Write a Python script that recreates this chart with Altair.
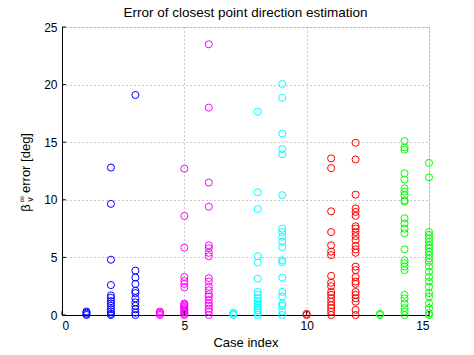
import altair as alt
import pandas as pd

# ---- data ----
case_1 = [0.0, 0.1, 0.2, 0.3]
case_2 = [12.8, 9.65, 4.8, 2.6, 1.7, 1.5, 1.2, 1.0, 0.8, 0.5, 0.3, 0.1, 0.0]
case_3 = [19.1, 3.85, 3.25, 2.7, 2.1, 1.9, 1.45, 1.1, 0.8, 0.5, 0.2, 0.0]
case_4 = [0.0, 0.1, 0.2, 0.3]
case_5 = [12.7, 8.6, 5.85, 3.3, 2.95, 2.7, 2.4, 1.0, 0.9, 0.8, 0.7, 0.6, 0.5, 0.4, 0.3, 0.2, 0.1, 0.0]
case_6 = [23.5, 18.0, 11.5, 9.4, 6.05, 5.8, 5.4, 5.1, 3.2, 2.9, 2.45, 2.15, 1.8, 1.6, 1.3, 1.0, 0.8, 0.55, 0.3, 0.0]
case_7 = [0.0, 0.1, 0.2]
case_8 = [17.65, 10.65, 9.2, 5.1, 4.55, 3.15, 2.0, 1.75, 1.45, 1.2, 1.0, 0.8, 0.6, 0.4, 0.2, 0.0]
case_9 = [20.05, 18.85, 15.75, 14.4, 13.95, 10.4, 7.5, 7.2, 6.8, 6.35, 5.9, 4.75, 4.6, 3.25, 2.0, 1.6, 1.0, 0.8, 0.3, 0.0]
case_10 = [0.0, 0.1]
case_11 = [13.6, 12.75, 9.0, 7.2, 6.05, 5.5, 5.2, 3.4, 2.8, 2.5, 2.0, 1.75, 1.45, 1.15, 0.85, 0.6, 0.3, 0.0]
case_12 = [14.95, 13.5, 10.45, 9.25, 8.95, 8.6, 7.7, 7.5, 7.2, 6.85, 6.5, 6.0, 5.7, 5.4, 4.2, 3.9, 3.3, 2.9, 2.7, 2.0, 1.75, 1.45, 1.15, 0.45, 0.0]
case_13 = [0.0, 0.1]
case_14 = [15.1, 14.55, 14.35, 12.3, 11.75, 11.0, 10.7, 10.4, 9.95, 9.85, 8.4, 7.95, 7.5, 7.1, 5.7, 4.75, 4.5, 4.2, 3.9, 1.75, 1.45, 1.0, 0.6, 0.3, 0.0]
case_15 = [13.2, 11.95, 7.2, 6.95, 6.65, 6.35, 6.05, 5.8, 5.5, 5.2, 4.9, 4.6, 4.2, 3.75, 3.3, 2.9, 2.45, 1.9, 1.6, 1.0, 0.6, 0.15, 0.0]

cases = [case_1, case_2, case_3, case_4, case_5, case_6, case_7, case_8,
         case_9, case_10, case_11, case_12, case_13, case_14, case_15]
group_names = ["g1", "g2", "g3", "g4", "g5"]
group_colors = ["#0000FF", "#FF00FF", "#00FFFF", "#FF0000", "#00FF00"]
x_ticks = [0, 5, 10, 15]
y_ticks = [0, 5, 10, 15, 20, 25]

rows = []
for i, vals in enumerate(cases):
    for v in vals:
        rows.append({"case": i + 1, "err": v, "group": group_names[i // 3]})
df = pd.DataFrame(rows)

FONT = "Liberation Sans"
W, H = 367, 288

xscale = alt.Scale(domain=[0, 15], nice=False, zero=False)
yscale = alt.Scale(domain=[0, 25], nice=False, zero=False)

xaxis = alt.Axis(values=x_ticks, grid=True, gridDash=[1, 3], gridColor="#999",
                 gridOpacity=1, ticks=False, domainColor="black", labelColor="black",
                 labelFontSize=12, labelPadding=5, labelFont=FONT,
                 titleFont=FONT, titleFontSize=13, titleFontWeight="normal",
                 titleColor="black", titlePadding=5)
yaxis = alt.Axis(values=y_ticks, grid=True, gridDash=[1, 3], gridColor="#999",
                 gridOpacity=1, ticks=False, domainColor="black", labelColor="black",
                 labelFontSize=12, labelPadding=5, labelFont=FONT)

points = alt.Chart(df).mark_point(
    shape="circle", filled=False, size=50, strokeWidth=1, opacity=1, clip=False
).encode(
    x=alt.X("case:Q", scale=xscale, title="Case index", axis=xaxis),
    y=alt.Y("err:Q", scale=yscale, title=None, axis=yaxis),
    color=alt.Color("group:N", scale=alt.Scale(domain=group_names, range=group_colors), legend=None),
)

xt = alt.Chart(pd.DataFrame({"case": x_ticks})).mark_rule(color="black", strokeWidth=1).encode(
    x=alt.X("case:Q", scale=xscale, title="Case index", axis=xaxis),
    y=alt.value(H), y2=alt.value(H - 4))
yt = alt.Chart(pd.DataFrame({"err": y_ticks})).mark_rule(color="black", strokeWidth=1).encode(
    y=alt.Y("err:Q", scale=yscale, title=None, axis=yaxis),
    x=alt.value(0), x2=alt.value(4))

lab_kw = dict(angle=270, font=FONT, color="black", baseline="middle")
beta = alt.Chart().mark_text(text="β", fontSize=13, align="center", **lab_kw).encode(
    x=alt.value(-36), y=alt.value(181))
inf = alt.Chart().mark_text(text="∞", fontSize=9, align="center", **lab_kw).encode(
    x=alt.value(-40.5), y=alt.value(172))
sub = alt.Chart().mark_text(text="v", fontSize=9, align="center", **lab_kw).encode(
    x=alt.value(-32), y=alt.value(172.5))
rest = alt.Chart().mark_text(text="error [deg]", fontSize=13, align="left", **lab_kw).encode(
    x=alt.value(-36), y=alt.value(166))

chart = alt.layer(points, xt, yt, beta, inf, sub, rest).properties(
    width=W, height=H,
    title=alt.TitleParams("Error of closest point direction estimation", font=FONT,
                          fontSize=13.5, fontWeight="normal", color="black", offset=2,
                          anchor="middle"),
    autosize=alt.AutoSizeParams(type="none"),
    padding={"left": 62, "top": 27, "right": 45, "bottom": 40},
).configure_view(stroke=None).configure(background="white")

chart.save("out.html", embed_options={"renderer": "svg", "actions": False})
